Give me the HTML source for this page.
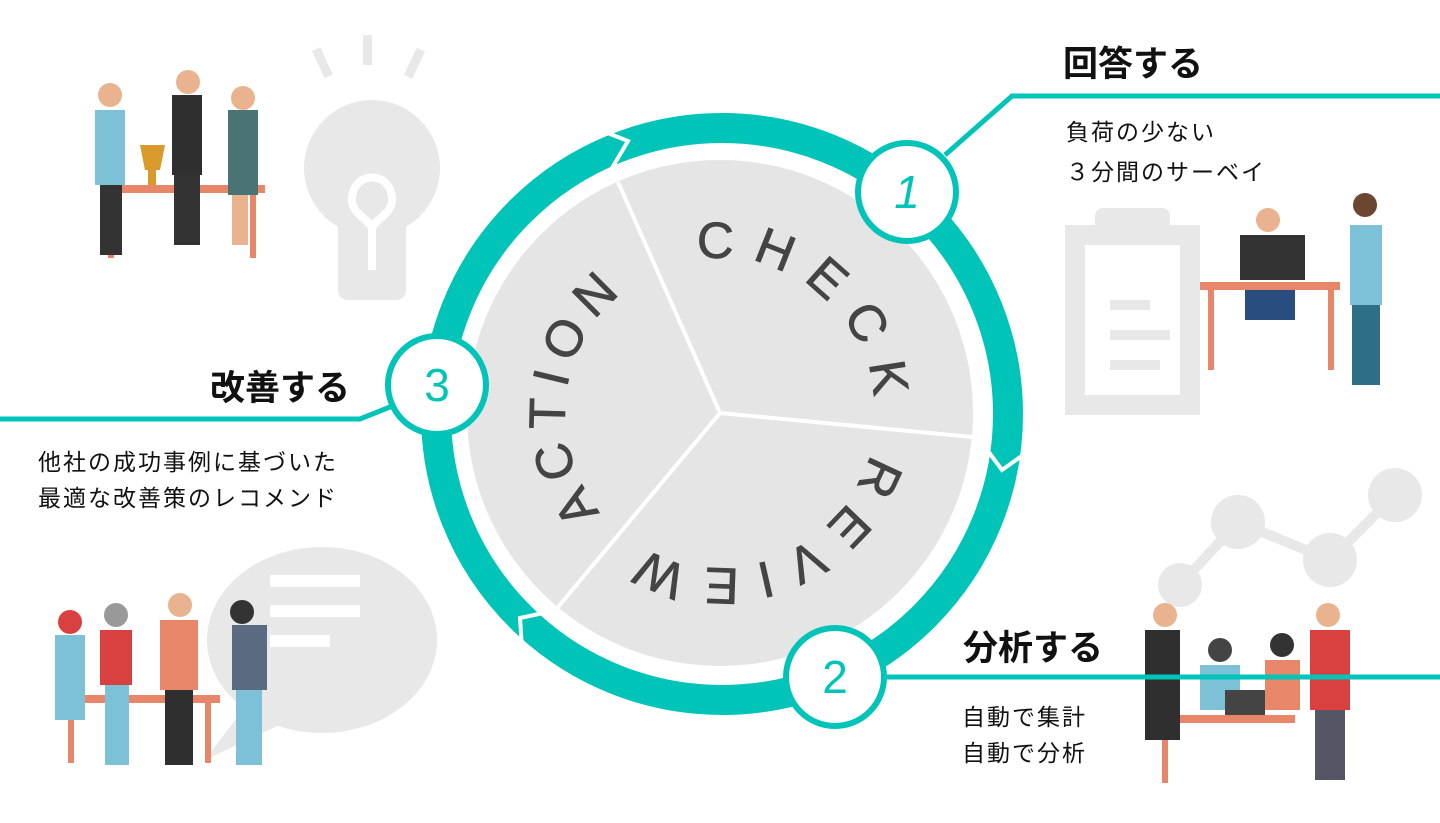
<!DOCTYPE html>
<html><head><meta charset="utf-8"><style>
html,body{margin:0;padding:0;background:#fff;}
body{width:1440px;height:823px;position:relative;overflow:hidden;font-family:"Liberation Sans","Noto Sans CJK JP",sans-serif;}
.t{position:absolute;color:#111;white-space:nowrap;}
.h{font-size:35px;font-weight:bold;}
.b{font-size:23px;letter-spacing:2px;}
</style></head><body>
<svg width="1440" height="823" style="position:absolute;left:0;top:0" xmlns="http://www.w3.org/2000/svg">
<g fill="#e8e8e8" stroke="none">
 <circle cx="372" cy="168" r="68"/>
 <rect x="338" y="215" width="68" height="85" rx="10"/>
 <rect x="363" y="35" width="9" height="30"/>
 <rect x="318" y="48" width="9" height="30" transform="rotate(-25 322 63)"/>
 <rect x="410" y="48" width="9" height="30" transform="rotate(25 414 63)"/>
 <path d="M1065 225 h135 v190 h-135z M1085 245 v150 h95 v-150z" fill-rule="evenodd"/>
 <rect x="1095" y="208" width="75" height="30" rx="8"/>
 <rect x="1110" y="300" width="40" height="10"/><rect x="1110" y="330" width="60" height="10"/><rect x="1110" y="360" width="50" height="10"/>
 <circle cx="1395" cy="495" r="27"/><circle cx="1330" cy="560" r="27"/><circle cx="1238" cy="522" r="27"/><circle cx="1180" cy="585" r="22"/>
 <ellipse cx="322" cy="640" rx="115" ry="93"/>
 <path d="M250 700 L205 760 L290 720z"/>
</g>
<path d="M352 200 c0-30 40-30 40 0 c0 15 -20 20 -20 30 v40 M372 230 c0-10 -20-15 -20-30" stroke="#fff" stroke-width="8" fill="none"/>
<g stroke="#e8e8e8" stroke-width="10" fill="none"><polyline points="1180,585 1238,522 1330,560 1395,495"/></g>
<g fill="#fff"><rect x="270" y="575" width="90" height="12"/><rect x="270" y="605" width="90" height="12"/><rect x="270" y="635" width="60" height="12"/></g>

<g>
 <rect x="100" y="185" width="165" height="8" fill="#e8866a"/>
 <rect x="108" y="193" width="6" height="65" fill="#e8866a"/><rect x="250" y="193" width="6" height="65" fill="#e8866a"/>
 <rect x="95" y="110" width="30" height="75" fill="#7cc1d6"/><rect x="100" y="185" width="22" height="70" fill="#333"/><circle cx="110" cy="95" r="12" fill="#e9b38f"/>
 <rect x="172" y="95" width="30" height="80" fill="#2f2f2f"/><rect x="174" y="175" width="26" height="70" fill="#333"/><circle cx="188" cy="82" r="12" fill="#e9b38f"/>
 <rect x="228" y="110" width="30" height="85" fill="#4a7373"/><circle cx="243" cy="98" r="12" fill="#e9b38f"/><rect x="232" y="195" width="16" height="50" fill="#e9b38f"/>
 <path d="M140 145 h25 l-5 25 h-15z" fill="#d99a2b"/><rect x="148" y="170" width="8" height="15" fill="#d99a2b"/>

 <rect x="1200" y="282" width="140" height="8" fill="#e8866a"/><rect x="1208" y="290" width="6" height="80" fill="#e8866a"/><rect x="1328" y="290" width="6" height="80" fill="#e8866a"/>
 <rect x="1240" y="235" width="65" height="45" fill="#333"/><circle cx="1268" cy="220" r="12" fill="#e9b38f"/><rect x="1245" y="290" width="50" height="30" fill="#2a4d80"/>
 <rect x="1350" y="225" width="32" height="80" fill="#7cc1d6"/><rect x="1352" y="305" width="28" height="80" fill="#2e6f86"/><circle cx="1365" cy="205" r="12" fill="#6b4630"/>

 <rect x="1155" y="715" width="140" height="8" fill="#e8866a"/><rect x="1162" y="723" width="6" height="60" fill="#e8866a"/>
 <rect x="1145" y="630" width="35" height="110" fill="#2f2f2f"/><circle cx="1165" cy="615" r="12" fill="#e9b38f"/>
 <rect x="1200" y="665" width="40" height="45" fill="#7cc1d6"/><circle cx="1220" cy="650" r="12" fill="#444"/>
 <rect x="1225" y="690" width="40" height="25" fill="#444"/>
 <rect x="1265" y="660" width="35" height="50" fill="#e8866a"/><circle cx="1282" cy="645" r="12" fill="#333"/>
 <rect x="1310" y="630" width="40" height="80" fill="#d94040"/><rect x="1315" y="710" width="30" height="70" fill="#556"/><circle cx="1328" cy="615" r="12" fill="#e9b38f"/>

 <rect x="60" y="695" width="160" height="8" fill="#e8866a"/><rect x="68" y="703" width="6" height="60" fill="#e8866a"/><rect x="205" y="703" width="6" height="60" fill="#e8866a"/>
 <rect x="55" y="635" width="30" height="85" fill="#7cc1d6"/><circle cx="70" cy="622" r="12" fill="#d94040"/>
 <rect x="100" y="630" width="32" height="55" fill="#d94040"/><rect x="105" y="685" width="24" height="80" fill="#7cc1d6"/><circle cx="116" cy="615" r="12" fill="#999"/>
 <rect x="160" y="620" width="38" height="70" fill="#e8866a"/><rect x="165" y="690" width="28" height="75" fill="#2f2f2f"/><circle cx="180" cy="605" r="12" fill="#e9b38f"/>
 <rect x="232" y="625" width="35" height="65" fill="#5a6a80"/><rect x="236" y="690" width="26" height="75" fill="#7cc1d6"/><circle cx="242" cy="612" r="12" fill="#333"/>
</g>

<g stroke="#00c4b8" stroke-width="5" fill="none">
 <polyline points="945,155 1012,96 1440,96"/>
 <line x1="880" y1="677" x2="1440" y2="677"/>
 <polyline points="395,405 360,419 0,419"/>
</g>

<circle cx="722" cy="414" r="286" fill="none" stroke="#00c4b8" stroke-width="30"/>
<circle cx="720" cy="413" r="253" fill="#e5e5e5"/>
<g stroke="#fff" stroke-width="4" fill="none" stroke-linejoin="miter">
 <polyline points="600,130 628,141 612,168"/>
 <polyline points="985,447 1002,470 1030,450"/>
 <polyline points="548,612 520,618 522,648"/>
</g>
<g stroke="#fff" stroke-width="4">
 <line x1="720" y1="413" x2="618" y2="182"/>
 <line x1="720" y1="413" x2="972" y2="437"/>
 <line x1="720" y1="413" x2="558" y2="607"/>
</g>

<defs>
 <path id="arcC" d="M 573.4 463.5 A 155 155 0 1 1 690.4 565.2"/>
 <path id="arcR" d="M 746.9 260.4 A 155 155 0 1 1 601.3 313.3"/>
 <path id="arcA" d="M 843.8 506.3 A 155 155 0 1 1 862.7 352.4"/>
</defs>
<g fill="#444" font-family="'Liberation Sans',sans-serif" font-size="51" stroke="#444" stroke-width="0.8">
 <text letter-spacing="18"><textPath href="#arcC" startOffset="50%" text-anchor="middle">CHECK</textPath></text>
 <text letter-spacing="16"><textPath href="#arcR" startOffset="50%" text-anchor="middle">REVIEW</textPath></text>
 <text letter-spacing="10"><textPath href="#arcA" startOffset="50%" text-anchor="middle">ACTION</textPath></text>
</g>

<g fill="#fff" stroke="#00c4b8" stroke-width="6">
 <circle cx="907" cy="192" r="49"/>
 <circle cx="835" cy="677" r="49"/>
 <circle cx="437" cy="385" r="49"/>
</g>
<g fill="#00c4b8" font-family="'Liberation Sans',sans-serif" font-size="46" text-anchor="middle">
 <text x="907" y="208" font-style="italic">1</text>
 <text x="835" y="693">2</text>
 <text x="437" y="401">3</text>
</g>
</svg>

<div class="t h" style="left:1063px;top:36px">回答する</div>
<div class="t b" style="left:1066px;top:112px;line-height:40px">負荷の少ない<br>３分間のサーベイ</div>
<div class="t h" style="left:210px;top:360px">改善する</div>
<div class="t b" style="left:38px;top:444px;line-height:36px">他社の成功事例に基づいた<br>最適な改善策のレコメンド</div>
<div class="t h" style="left:963px;top:620px">分析する</div>
<div class="t b" style="left:962px;top:699px;line-height:36px">自動で集計<br>自動で分析</div>
</body></html>
